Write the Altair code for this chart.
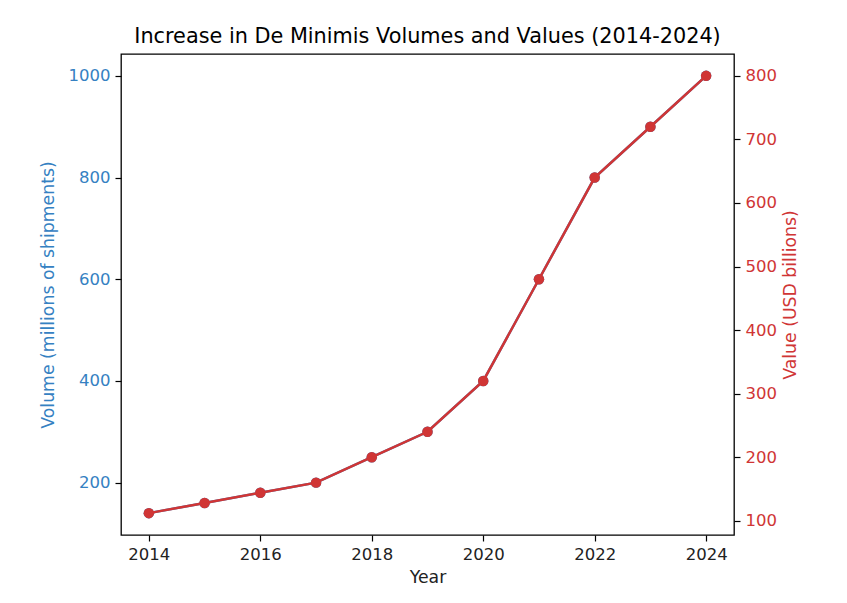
import altair as alt
import pandas as pd

years = [2014, 2015, 2016, 2017, 2018, 2019, 2020, 2021, 2022, 2023, 2024]
volume_millions = [140, 160, 180, 200, 250, 300, 400, 600, 800, 900, 1000]
value_usd_billions = [112, 128, 144, 160, 200, 240, 320, 480, 640, 720, 800]

BLUE = "#3581c2"
RED = "#d03535"
FONT = "DejaVu Sans"
FS = 16.5
TFS = 17.3

df = pd.DataFrame({
    "Year": years,
    "Volume": volume_millions,
    "Value": value_usd_billions,
})

x = alt.X(
    "Year:Q",
    scale=alt.Scale(domain=[2013.5, 2024.5], nice=False, zero=False),
    axis=alt.Axis(
        values=[2014, 2016, 2018, 2020, 2022, 2024],
        format="d",
        title="Year",
        grid=False,
        domain=False,
        tickColor="black",
        tickSize=6,
        tickWidth=1.2,
        labelColor="#222222",
        labelFontSize=FS,
        labelFont=FONT,
        labelPadding=5,
        titleFont=FONT,
        titleFontSize=TFS,
        titleFontWeight="normal",
        titleColor="#222222",
        titlePadding=6,
    ),
)

volume = alt.Chart(df).mark_line(
    color=BLUE, strokeWidth=2.5,
    point=alt.OverlayMarkDef(color=BLUE, size=110, filled=True, opacity=1),
).encode(
    x=x,
    y=alt.Y(
        "Volume:Q",
        scale=alt.Scale(domain=[97, 1043], nice=False, zero=False),
        axis=alt.Axis(
            orient="left",
            values=[200, 400, 600, 800, 1000],
            format="d",
            title="Volume (millions of shipments)",
            grid=False,
            domain=False,
            tickColor="black",
            tickSize=6,
            tickWidth=1.2,
            labelColor=BLUE,
            labelFontSize=FS,
            labelFont=FONT,
            labelPadding=5,
            titleColor=BLUE,
            titleFont=FONT,
            titleFontSize=TFS,
            titleFontWeight="normal",
            titlePadding=11,
        ),
    ),
)

value = alt.Chart(df).mark_line(
    color=RED, strokeWidth=2.5,
    point=alt.OverlayMarkDef(color=RED, size=110, filled=True, opacity=1),
).encode(
    x=x,
    y=alt.Y(
        "Value:Q",
        scale=alt.Scale(domain=[77.6, 834.4], nice=False, zero=False),
        axis=alt.Axis(
            orient="right",
            values=[100, 200, 300, 400, 500, 600, 700, 800],
            format="d",
            title="Value (USD billions)",
            grid=False,
            domain=False,
            tickColor="black",
            tickSize=6,
            tickWidth=1.2,
            labelColor=RED,
            labelFontSize=FS,
            labelFont=FONT,
            labelPadding=5,
            titleColor=RED,
            titleFont=FONT,
            titleFontSize=TFS,
            titleFontWeight="normal",
            titleAngle=270,
            titleBaseline="top",
            titlePadding=5,
        ),
    ),
)

chart = (
    alt.layer(volume, value)
    .resolve_scale(y="independent")
    .properties(
        width=613,
        height=481,
        title=alt.TitleParams(
            "Increase in De Minimis Volumes and Values (2014-2024)",
            font=FONT,
            fontSize=20.8,
            fontWeight="normal",
            color="black",
            anchor="middle",
            offset=6,
        ),
        autosize=alt.AutoSizeParams(type="none"),
        padding={"left": 121, "top": 54, "right": 113, "bottom": 68},
        background="white",
    )
    .configure_view(stroke="black", strokeWidth=1.3)
)

chart.save("out.html", embed_options={"renderer": "svg", "actions": False})
